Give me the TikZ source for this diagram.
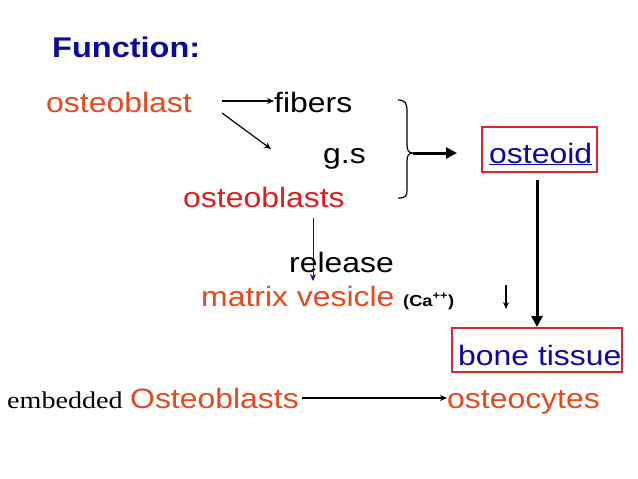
\documentclass[tikz,border=0pt]{standalone}
\usepackage{fontspec}
\setmainfont[FakeStretch=1.14]{Liberation Sans}
\newfontfamily\serifx[FakeStretch=1.17]{Liberation Serif}
\usetikzlibrary{arrows.meta}
\definecolor{orng}{HTML}{E34A1E}
\definecolor{redx}{HTML}{DD1E1E}
\definecolor{bluex}{HTML}{0A0AA0}
\definecolor{boxred}{HTML}{D9262B}
\tikzset{
  txt/.style={inner sep=0pt, anchor=base west, font=\fontsize{28}{30}\selectfont},
  thin/.style={line width=1.2pt, -{Stealth[length=7pt,width=6pt]}},
  thick/.style={line width=3pt, -{Triangle[length=11pt,width=11pt]}},
  redbox/.style={draw=boxred, line width=2pt, inner sep=0pt},
}
\begin{document}
\begin{tikzpicture}[x=1pt,y=-1pt]
\useasboundingbox (0,0) rectangle (638,479);
\node[txt, text=bluex, font=\fontsize{28.5}{30}\selectfont\bfseries] (fn) at (52,57) {Function:};
\node[txt, text=orng] (ob) at (46,112) {osteoblast};
\node[txt] (fib) at (274,112) {fibers};
\node[txt] (gs) at (323,163) {g.s};
\node[txt, text=redx] (obs) at (183,207) {osteoblasts};
\node[redbox, minimum width=115pt, minimum height=45pt] (oid) at (539.5,149.5) {};
\node[txt, text=bluex] (oidt) at (489,163) {\underline{osteoid}};
\node[txt] (rel) at (289,272) {release};
\node[txt, text=orng] (mv) at (201,306) {matrix vesicle};
\node[txt, font=\fontsize{16}{18}\selectfont\bfseries] (ca) at (403,306) {(Ca\textsuperscript{++})};
\node[redbox, minimum width=170pt, minimum height=44pt] (bt) at (537,350) {};
\node[txt, text=bluex] (btt) at (458,365) {bone tissue};
\node[txt, font=\serifx\fontsize{24}{26}\selectfont] (emb) at (7,408) {embedded};
\node[txt, text=orng] (obl) at (130,408) {Osteoblasts};
\node[txt, text=orng] (oc) at (447,408) {osteocytes};
% connectors
\coordinate (a1) at (222,101);
\coordinate (a2) at (222,113);
\coordinate (a3) at (271,149);
\draw[thin] (a1) -- (fib.west |- a1);
\draw[thin] (a2) -- (a3);
% brace
\coordinate (br) at (413,153);
\draw[line width=1.2pt] (398,100) .. controls (406,100) and (407,104) .. (407,112) -- (407,145)
  .. controls (407,151) and (409,153) .. (br)
  .. controls (409,153) and (407,155) .. (407,161) -- (407,190)
  .. controls (407,196) and (406,198) .. (398,198);
\coordinate (b2) at (457,153);
\draw[thick] (br) -- (b2);
\coordinate (v1) at (537,180);
\draw[thick] (v1) -- (bt.north |- v1) -- (bt.north);
\coordinate (c1) at (313,218);
\coordinate (c2) at (313,281);
\draw[thin, draw=bluex, line width=1pt] (c1) -- (c2);
\coordinate (d1) at (506,285);
\coordinate (d2) at (506,309);
\draw[thin] (d1) -- (d2);
\coordinate (e1) at (302,398);
\draw[thin] (e1) -- (oc.west |- e1);
\end{tikzpicture}
\end{document}
